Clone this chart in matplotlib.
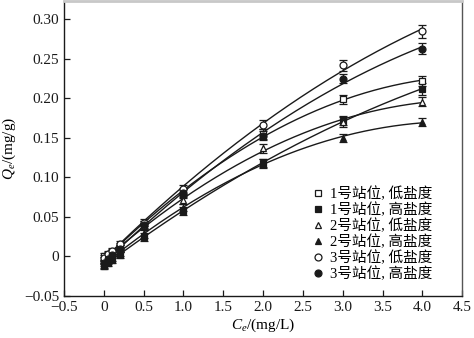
import numpy as np
import matplotlib
matplotlib.use("Agg")
import matplotlib.pyplot as plt

plt.rcParams['font.family'] = ['Liberation Serif', 'Noto Sans CJK SC']
plt.rcParams['mathtext.fontset'] = 'custom'
plt.rcParams['mathtext.it'] = 'Liberation Serif:italic'
plt.rcParams['mathtext.rm'] = 'Liberation Serif'

# Equilibrium concentration Ce (mg/L)
ce = [0.0, 0.05, 0.1, 0.2, 0.5, 1.0, 2.0, 3.0, 4.0]

# Adsorption amount Qe (mg/g) per station / salinity
q_1_low = [0.000, 0.002, 0.005, 0.012, 0.040, 0.080, 0.155, 0.199, 0.222]
q_1_high = [-0.012, -0.008, -0.004, 0.002, 0.025, 0.058, 0.118, 0.172, 0.212]
q_2_low = [-0.005, 0.000, 0.004, 0.010, 0.038, 0.072, 0.137, 0.170, 0.196]
q_2_high = [-0.010, -0.006, -0.002, 0.005, 0.030, 0.062, 0.118, 0.150, 0.170]
q_3_low = [-0.002, 0.003, 0.007, 0.016, 0.043, 0.085, 0.167, 0.242, 0.285]
q_3_high = [-0.008, -0.003, 0.002, 0.010, 0.040, 0.080, 0.153, 0.225, 0.263]

err_1_low = [0.004, 0.004, 0.004, 0.005, 0.005, 0.006, 0.006, 0.006, 0.006]
err_1_high = [0.004, 0.004, 0.004, 0.004, 0.005, 0.005, 0.006, 0.006, 0.007]
err_2_low = [0.004, 0.004, 0.004, 0.004, 0.005, 0.005, 0.006, 0.006, 0.006]
err_2_high = [0.004, 0.004, 0.004, 0.004, 0.006, 0.005, 0.005, 0.005, 0.005]
err_3_low = [0.004, 0.004, 0.004, 0.004, 0.005, 0.006, 0.006, 0.007, 0.008]
err_3_high = [0.004, 0.004, 0.004, 0.004, 0.005, 0.005, 0.006, 0.006, 0.007]

labels = ['1号站位, 低盐度', '1号站位, 高盐度', '2号站位, 低盐度',
          '2号站位, 高盐度', '3号站位, 低盐度', '3号站位, 高盐度']
series = [q_1_low, q_1_high, q_2_low, q_2_high, q_3_low, q_3_high]
errors = [err_1_low, err_1_high, err_2_low, err_2_high, err_3_low, err_3_high]
markers = ['s', 's', '^', '^', 'o', 'o']
filled = [False, True, False, True, False, True]

fig = plt.figure(figsize=(4.74, 3.38), dpi=100)
ax = fig.add_axes([0.135, 0.1243, 0.84, 0.873])

x = np.array(ce)
xs = np.linspace(0, 4, 200)
handles = []
for q, e, m, f, lab in zip(series, errors, markers, filled, labels):
    q = np.array(q)
    # fitted isotherm curve
    coef = np.polyfit(x, q, 2)
    ax.plot(xs, np.polyval(coef, xs), color='#1a1a1a', lw=1.0, zorder=2)
    ax.errorbar(x, q, yerr=e, fmt=m, ms=5, mec='#1a1a1a',
                mfc='#1a1a1a' if f else 'white', mew=0.9,
                ecolor='#1a1a1a', elinewidth=0.9, capsize=3, capthick=0.9,
                zorder=3)
    handles.append(ax.plot([], [], m, ms=5, mec='#1a1a1a',
                           mfc='#1a1a1a' if f else 'white', mew=0.9)[0])

ax.set_xlim(-0.5, 4.5)
ax.set_ylim(-0.05, 0.3235)
ax.set_xticks([-0.5, 0, 0.5, 1.0, 1.5, 2.0, 2.5, 3.0, 3.5, 4.0, 4.5])
ax.set_xticklabels(['−0.5', '0', '0.5', '1.0', '1.5', '2.0', '2.5', '3.0', '3.5', '4.0', '4.5'])
ax.set_yticks([-0.05, 0, 0.05, 0.10, 0.15, 0.20, 0.25, 0.30])
ax.set_yticklabels(['−0.05', '0', '0.05', '0.10', '0.15', '0.20', '0.25', '0.30'])
ax.tick_params(direction='in', length=4, width=0.9, labelsize=11, colors='#1a1a1a')

for s in ['left', 'bottom']:
    ax.spines[s].set_color('#1a1a1a')
    ax.spines[s].set_linewidth(1.0)
ax.spines['right'].set_color('#555555')
ax.spines['right'].set_linewidth(1.0)
ax.spines['top'].set_color('#c8c8c8')
ax.spines['top'].set_linewidth(2.0)

ax.set_xlabel(r'$C_e$/(mg/L)', fontsize=11, labelpad=2)
ax.set_ylabel(r'$Q_e$/(mg/g)', fontsize=11, labelpad=4)

ax.legend(handles, labels, loc='lower right', bbox_to_anchor=(0.925, 0.05),
          frameon=False, fontsize=10.5, handlelength=0.9, handletextpad=0.4,
          labelspacing=0.1, borderaxespad=0, borderpad=0)

fig.savefig('out.png', dpi=100)
